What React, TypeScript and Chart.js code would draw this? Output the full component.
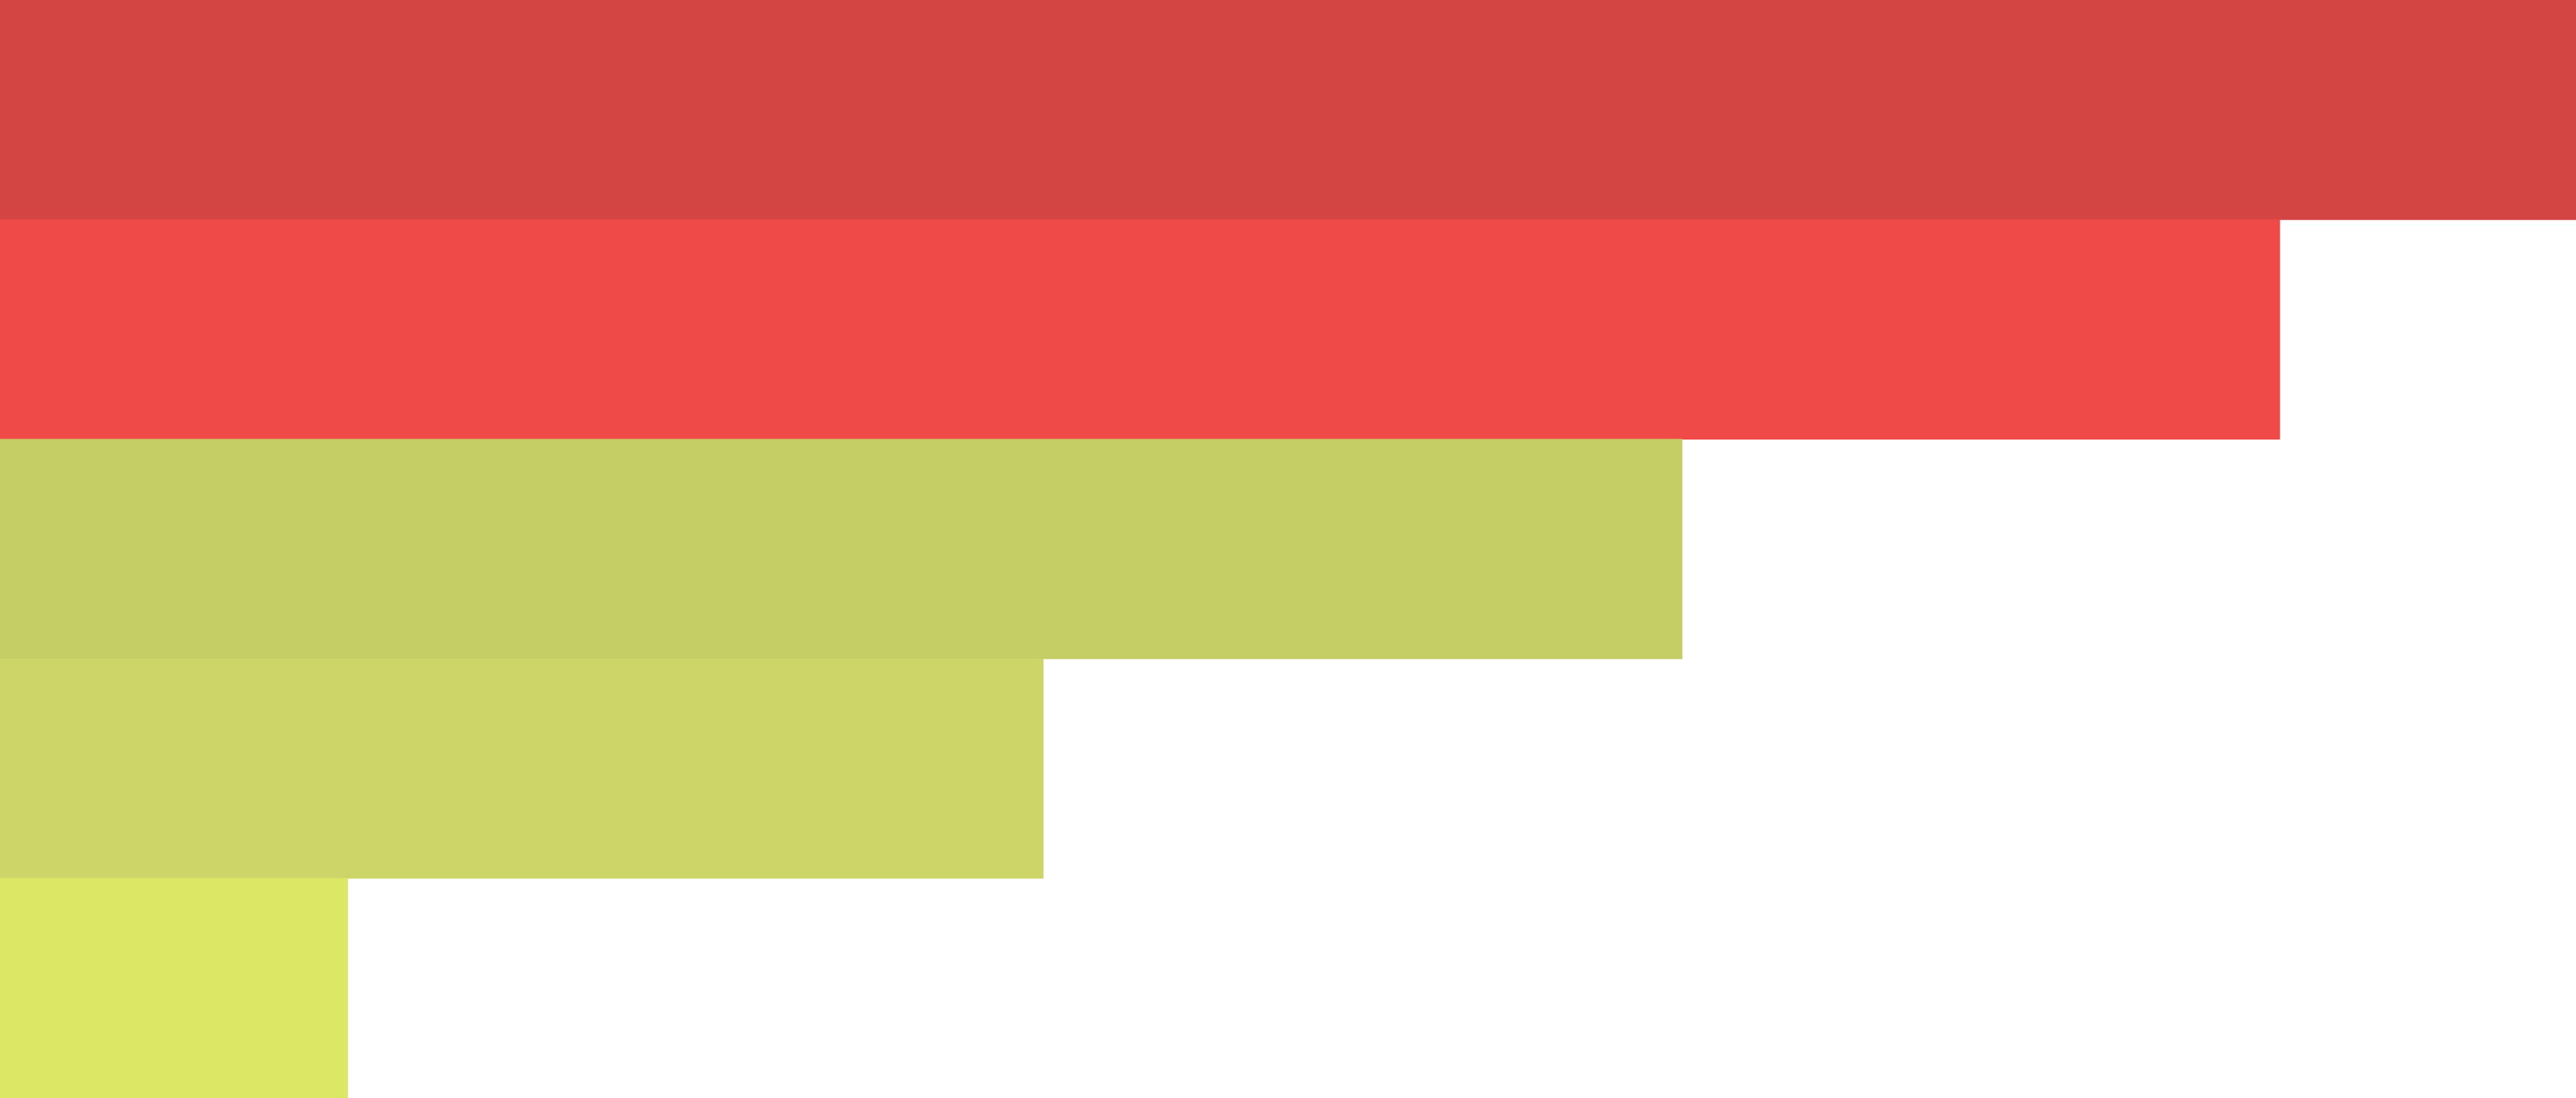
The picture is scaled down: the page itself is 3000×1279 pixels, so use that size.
import React, { useEffect, useRef } from "react";
import { Chart, registerables } from "chart.js";

Chart.register(...registerables);

// stages, top to bottom
const stages = ["Stage 1", "Stage 2", "Stage 3", "Stage 4", "Stage 5"];
const values = [100, 88.5, 65.3, 40.5, 13.5];
const colors = ["#D34543", "#EF4A48", "#C5CD65", "#CDD568", "#DCE865"];

const App: React.FC = () => {
    const canvasRef = useRef<HTMLCanvasElement | null>(null);

    useEffect(() => {
        if (!canvasRef.current) return;

        const chart = new Chart(canvasRef.current, {
            type: "bar",
            data: {
                labels: stages,
                datasets: [
                    {
                        data: values,
                        backgroundColor: colors,
                        borderWidth: 0,
                        barPercentage: 1,
                        categoryPercentage: 1,
                    },
                ],
            },
            options: {
                indexAxis: "y",
                animation: false,
                responsive: true,
                maintainAspectRatio: false,
                layout: { padding: 0 },
                plugins: {
                    legend: { display: false },
                    tooltip: { enabled: false },
                },
                scales: {
                    x: { display: false, min: 0, max: 100 },
                    y: { display: false },
                },
            },
        });

        return () => chart.destroy();
    }, []);

    return (
        <div style={{ position: "fixed", top: 0, left: 0, width: "100vw", height: "100vh", background: "#fff" }}>
            <canvas ref={canvasRef} />
        </div>
    );
};

export default App;
